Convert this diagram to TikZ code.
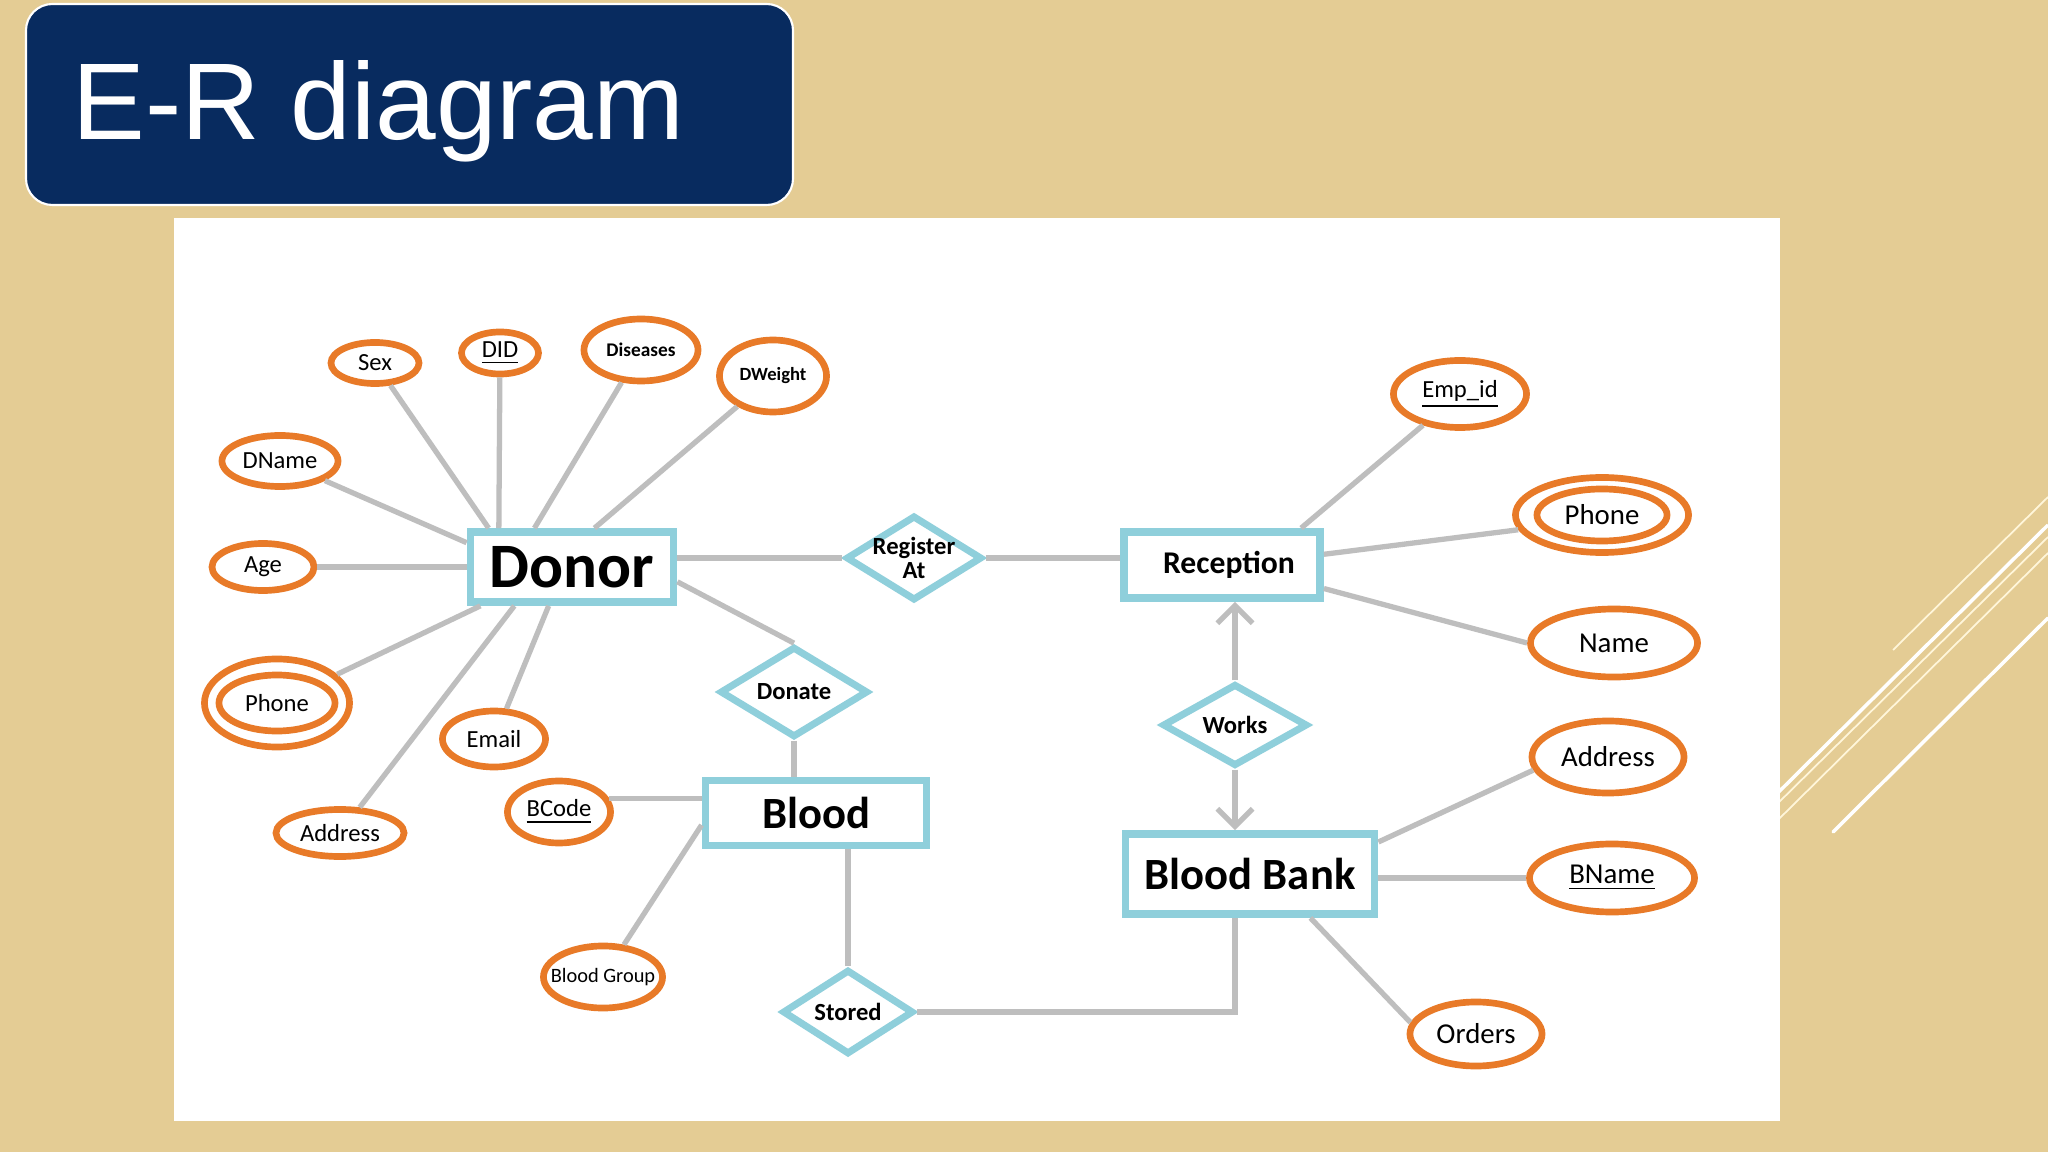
\documentclass[tikz,border=0pt]{standalone}
\usepackage{fontspec}
\setmainfont{Carlito}
\newfontfamily\titlefont{Liberation Sans}
\usetikzlibrary{shapes.geometric,arrows.meta}
\definecolor{paper}{RGB}{228,204,148}
\definecolor{navy}{RGB}{8,43,95}
\definecolor{erorange}{RGB}{232,122,40}
\definecolor{erblue}{RGB}{143,207,219}
\definecolor{linkgray}{RGB}{190,190,190}
\definecolor{cream}{RGB}{255,246,218}

\begin{document}
\begin{tikzpicture}[x=0.01cm, y=-0.01cm, font=\fontsize{7}{8}\selectfont]
\tikzset{
  entity/.style={rectangle, draw=erblue, line width=2.2pt, fill=white, font=\bfseries\fontsize{12.7}{14}\selectfont},
  rel/.style={diamond, draw=erblue, line width=2pt, fill=white, inner sep=0pt, font=\bfseries\fontsize{7}{8}\selectfont},
  attr/.style={ellipse, draw=erorange, line width=1.9pt, fill=white, inner sep=0pt},
  bigattr/.style={attr, font=\fontsize{8.2}{10}\selectfont},
  link/.style={linkgray, line width=1.5pt},
  arr/.style={link, -{Straight Barb[length=5pt, width=10pt]}},
}
\useasboundingbox (0,0) rectangle (2048,1152);
% slide background
\fill[paper] (0,0) rectangle (2048,1152);
\draw[white, line width=1pt] (1700,870) -- (2048,525);
\draw[cream, line width=0.5pt] (1700,880) -- (2048,537);
\draw[cream, line width=0.5pt] (1700,897) -- (2048,553);
\draw[cream, line width=0.5pt] (1893,650) -- (2048,497);
\draw[white, line width=1pt, line cap=round] (1833,832) -- (2048,618);
\fill[white] (174,218) rectangle (1780,1121);
% title
\draw[white, line width=0.6pt, fill=navy, rounded corners=7.5pt] (26,4) rectangle (793,205);
\node[anchor=base west, inner sep=0pt, text=white, font=\titlefont\fontsize{31}{36}\selectfont] (title) at (72,140) {E-R diagram};

% entities
\node[entity, minimum width=2.03cm, minimum height=0.70cm, font=\bfseries\fontsize{18}{20}\selectfont] (donor) at (572,567) {Donor};
\node[entity, minimum width=1.96cm, minimum height=0.66cm, font=\bfseries\fontsize{9}{11}\selectfont] (rec) at (1222,565) {\hspace{4pt}Reception};
\node[entity, minimum width=2.21cm, minimum height=0.65cm] (blood) at (816,813) {Blood};
\node[entity, minimum width=2.49cm, minimum height=0.80cm] (bank) at (1250,874) {Blood Bank};

% relationships
\node[rel, minimum width=1.36cm, minimum height=0.85cm] (reg) at (914,558) {\makebox[0pt]{\shortstack{Register\\[-1.7pt]At}}};
\node[rel, minimum width=1.48cm, minimum height=0.73cm] (donate) at (794,692) {Donate};
\node[rel, minimum width=1.45cm, minimum height=0.79cm] (works) at (1235,725) {Works};
\node[rel, minimum width=1.31cm, minimum height=0.81cm] (stored) at (848,1012) {Stored};

% donor attributes
\node[attr, minimum width=0.88cm, minimum height=0.41cm] (sex) at (375,363) {Sex};
\node[attr, minimum width=0.77cm, minimum height=0.42cm] (did) at (500,353) {\underline{DID}};
\node[attr, minimum width=1.14cm, minimum height=0.62cm, font=\bfseries\fontsize{5.5}{6}\selectfont] (diseases) at (641,350) {Diseases};
\node[attr, minimum width=1.07cm, minimum height=0.72cm, font=\bfseries\fontsize{5.3}{6}\selectfont] (dweight) at (773,376) {DWeight};
\node[attr, minimum width=1.16cm, minimum height=0.51cm] (dname) at (280,461) {DName};
\node[attr, minimum width=1.02cm, minimum height=0.47cm] (age) at (263,567) {Age};
\node[attr, minimum width=1.45cm, minimum height=0.88cm] (dphone) at (277,703) {};
\node[attr, minimum width=1.16cm, minimum height=0.56cm] (dphonein) at (dphone) {Phone};
\node[attr, minimum width=1.03cm, minimum height=0.56cm] (email) at (494,739) {Email};
\node[attr, minimum width=1.28cm, minimum height=0.47cm] (daddr) at (340,833) {Address};

% blood attributes
\node[attr, minimum width=1.03cm, minimum height=0.62cm] (bcode) at (559,812) {\underline{BCode}};
\node[attr, minimum width=1.19cm, minimum height=0.62cm, font=\fontsize{5.8}{7}\selectfont] (bgroup) at (603,977) {\makebox[0pt]{Blood Group}};

% reception and blood bank attributes
\node[attr, minimum width=1.33cm, minimum height=0.67cm] (empid) at (1460,394) {\underline{Emp\_id}};
\node[attr, minimum width=1.73cm, minimum height=0.75cm] (rphone) at (1602,515) {};
\node[bigattr, minimum width=1.30cm, minimum height=0.52cm] (rphonein) at (rphone) {Phone};
\node[bigattr, minimum width=1.67cm, minimum height=0.68cm] (rname) at (1614,643) {Name};
\node[bigattr, minimum width=1.52cm, minimum height=0.72cm] (baddr) at (1608,757) {Address};
\node[bigattr, minimum width=1.65cm, minimum height=0.68cm] (bname) at (1612,878) {\underline{BName}};
\node[bigattr, minimum width=1.32cm, minimum height=0.64cm] (orders) at (1476,1034) {Orders};

% connectors
\draw[link] (sex) -- (donor.155);
\draw[link] (did) -- (donor.152);
\draw[link] (diseases) -- (donor.134);
\draw[link] (dweight) -- (donor.60);
\draw[link] (dname) -- (donor.167);
\draw[link] (age) -- (donor);
\draw[link] (dphone) -- (donor.203);
\draw[link] (daddr) -- (donor.214);
\draw[link] (email) -- (donor.239);
\draw[link] (reg.west -| donor.east) -- (reg.west);
\draw[link] (reg.east) -- (reg.east -| rec.west);
\draw[link] (donor.352) -- (donate.north);
\draw[link] (donate.south) -- (donate.south |- blood.north);
\draw[link] (bcode.15) -- (bcode.15 -| blood.west);
\draw[link] (bgroup) -- (blood.186);
\draw[link] (stored.north) -- (stored.north |- blood.south);
\draw[link] (stored.east) -| (works.south |- bank.south);
\draw[arr] (works.north) -- (works.north |- rec.south);
\draw[arr] (works.south) -- (works.south |- bank.north);
\draw[link] (rec.25) -- (empid);
\draw[link] (rec.6) -- (rphone.190);
\draw[link] (rec.347) -- (rname.west);
\draw[link] (bank.14) -- (baddr.190);
\draw[link] (bname.west -| bank.east) -- (bname.west);
\draw[link] (bank.324) -- (orders.170);
\end{tikzpicture}
\end{document}
